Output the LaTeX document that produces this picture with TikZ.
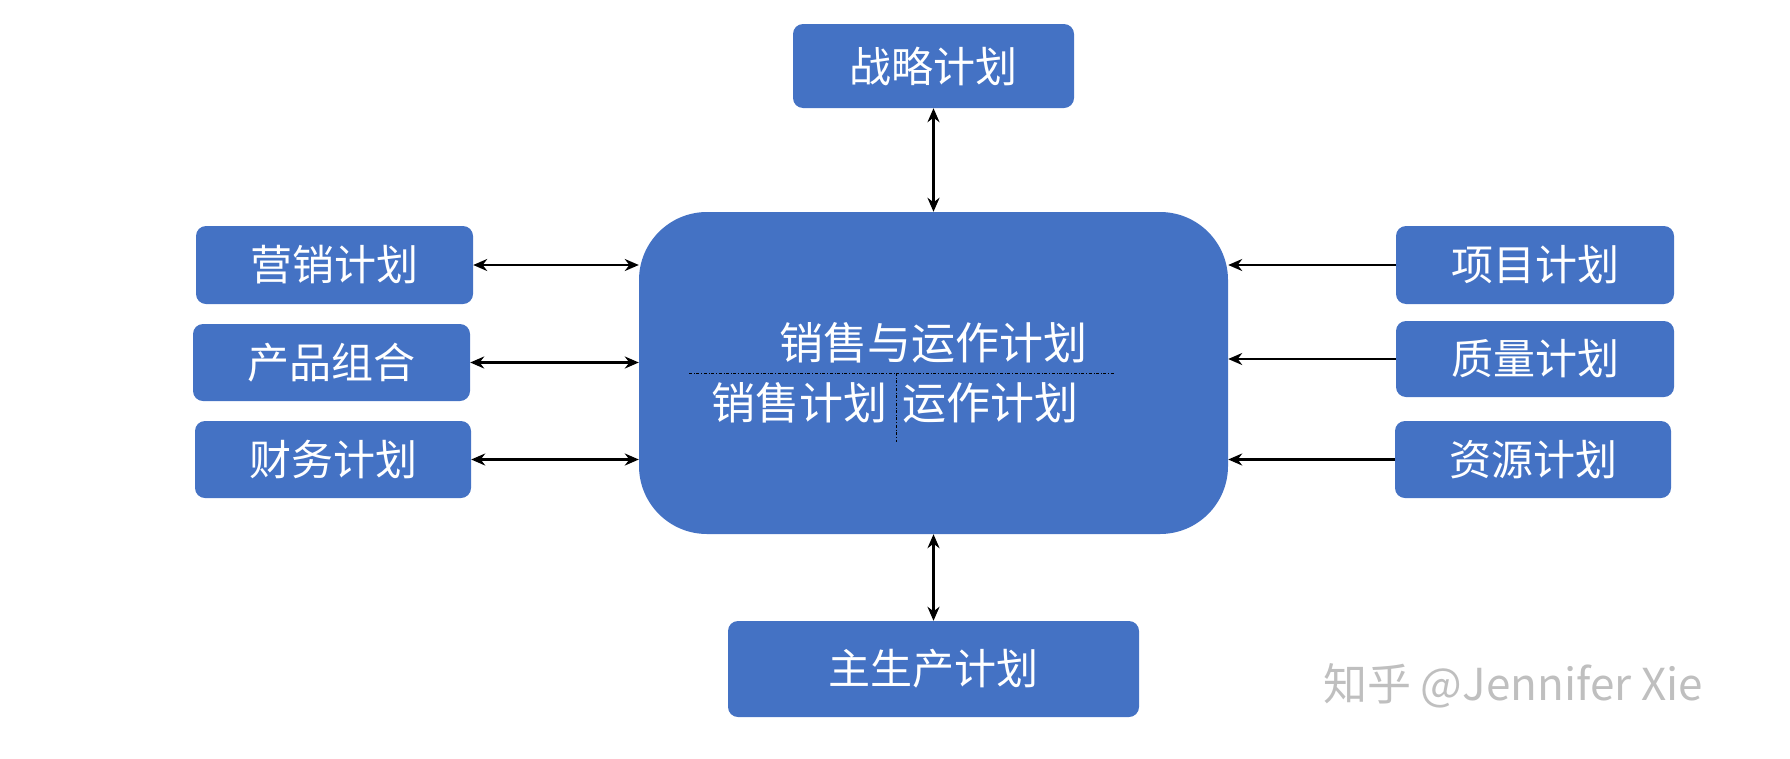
\documentclass[tikz,border=0pt]{standalone}
\usepackage{fontspec}
\setmainfont{Noto Sans CJK SC}
\usetikzlibrary{arrows.meta}
\definecolor{bx}{HTML}{4472C4}
\begin{document}
\begin{tikzpicture}[x=1pt,y=-1pt,
 box/.style={draw=none,fill=bx,rounded corners=10pt,text=white,font=\fontsize{42}{44}\selectfont,inner sep=0pt},
 arr/.style={line width=2.5pt,-{Stealth[length=14pt,width=12pt]}},
 barr/.style={line width=2.5pt,{Stealth[length=14pt,width=12pt]}-{Stealth[length=14pt,width=12pt]}}]
\useasboundingbox (0,0) rectangle (1790,758);
\node[box,minimum width=281pt,minimum height=84pt] (zl) at (933.5,66) {战略计划};
\node[box,rounded corners=68pt,minimum width=589pt,minimum height=322pt] (c) at (933.5,373) {};
\node[box,minimum width=277pt,minimum height=78pt] (yx) at (334.5,265) {营销计划};
\node[box,minimum width=277pt,minimum height=77pt] (cp) at (331.5,362.5) {产品组合};
\node[box,minimum width=276pt,minimum height=77pt] (cw) at (333,459.5) {财务计划};
\node[box,minimum width=278pt,minimum height=78pt] (xm) at (1535,265) {项目计划};
\node[box,minimum width=278pt,minimum height=76pt] (zlj) at (1535,359) {质量计划};
\node[box,minimum width=276pt,minimum height=77pt] (zy) at (1533,459.5) {资源计划};
\node[box,minimum width=411pt,minimum height=96pt] (zsc) at (933.5,669) {主生产计划};
\node[text=white,font=\fontsize{44}{46}\selectfont,inner sep=0pt] (t1) at (933,343) {销售与运作计划};
\node[text=white,font=\fontsize{44}{46}\selectfont,inner sep=0pt,anchor=east] (t2) at (888,403) {销售计划};
\node[text=white,font=\fontsize{44}{46}\selectfont,inner sep=0pt,anchor=west] (t3) at (902,403) {运作计划};
\coordinate (dl) at (689,373); \coordinate (dr) at (1115,373);
\coordinate (dt) at (896,373); \coordinate (db) at (896,442);
\draw[dash dot,line width=1pt,black] (dl) -- (dr);
\draw[dash dot,line width=1pt,black] (dt) -- (db);
\draw[barr] (zl.south) -- (c.north);
\draw[barr] (zsc.north) -- (c.south);
\draw[barr] (yx.east) -- (yx.east -| c.west);
\draw[barr] (cp.east) -- (cp.east -| c.west);
\draw[barr] (cw.east) -- (cw.east -| c.west);
\draw[arr] (xm.west) -- (xm.west -| c.east);
\draw[arr] (zlj.west) -- (zlj.west -| c.east);
\draw[arr] (zy.west) -- (zy.west -| c.east);
\node[text=black!25,font=\fontsize{44}{46}\selectfont,inner sep=0pt] (wm) at (1513,686) {知乎 @Jennifer Xie};
\end{tikzpicture}
\end{document}
